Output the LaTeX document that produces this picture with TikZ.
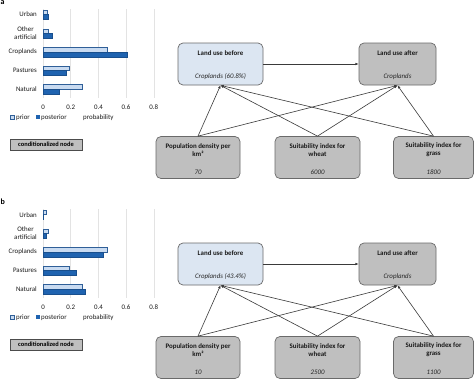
\documentclass[tikz,border=0pt]{standalone}
\usepackage{fontspec}
\setmainfont{Carlito}
\usetikzlibrary{arrows.meta}
\definecolor{boxgray}{HTML}{BFBFBF}
\definecolor{boxedge}{HTML}{6A6A6A}
\definecolor{lblue}{HTML}{DCE6F2}
\definecolor{priorfill}{HTML}{C9DBF1}
\definecolor{prioredge}{HTML}{2F5F98}
\definecolor{postfill}{HTML}{1F63B0}
\definecolor{gridc}{HTML}{E3E3E3}
\definecolor{arrc}{HTML}{3A3A3A}
\tikzset{
  bnbox/.style={draw=boxedge, line width=0.7pt, rounded corners=5pt, fill=boxgray, inner sep=0pt},
  ttl/.style={font=\fontsize{6.9}{7.8}\selectfont\bfseries, align=center, inner sep=0pt, text=black!90},
  val/.style={font=\fontsize{6.9}{7.8}\selectfont\itshape, inner sep=0pt, text=black!85},
  cat/.style={font=\fontsize{6.9}{7.8}\selectfont, align=center, inner sep=0pt, anchor=east, text=black!90},
  tick/.style={font=\fontsize{6.9}{7.8}\selectfont, inner sep=0pt, text=black!90},
  arr/.style={draw=arrc, line width=0.6pt, -{Latex[length=3.2pt,width=2.6pt]}},
  priorbar/.style={fill=priorfill, draw=prioredge, line width=0.4pt},
  postbar/.style={fill=postfill, draw=postfill!80!black, line width=0.4pt},
  panellbl/.style={font=\fontsize{8}{9}\selectfont\bfseries, inner sep=0pt, anchor=north west},
  condbox/.style={draw=black!70, line width=0.7pt, fill=boxgray, font=\fontsize{6.4}{7}\selectfont\bfseries, minimum width=72pt, minimum height=11pt, inner sep=0pt}
}
\newcommand{\pnbars}[3]{% y prior post
  \path[priorbar] (43,#1-4.5) rectangle ({43+#2*138.5},#1);
  \path[postbar] (43,#1) rectangle ({43+#3*138.5},#1+5);
}
\begin{document}
\begin{tikzpicture}[x=1pt,y=-1pt]
\useasboundingbox (0,0) rectangle (474,380);
\fill[white] (0,0) rectangle (474,380);
% ================= Panel a =================
\node[panellbl] (la) at (0.5,0.5) {a};
\foreach \v in {0,0.2,0.4,0.6,0.8} \draw[gridc, line width=0.6pt] ({43+\v*138.5},9) -- ({43+\v*138.5},98);
\pnbars{14.5}{0.03}{0.04}
\pnbars{33.2}{0.04}{0.065}
\pnbars{51.8}{0.46}{0.61}
\pnbars{70.4}{0.19}{0.165}
\pnbars{89}{0.28}{0.12}
\node[cat] (ca1) at (37,14.5) {Urban};
\node[cat] (ca2) at (37,33.5) {Other\\artificial};
\node[cat] (ca3) at (37,51.8) {Croplands};
\node[cat] (ca4) at (37,70.4) {Pastures};
\node[cat] (ca5) at (37,89) {Natural};
\foreach \v/\t in {0/0,0.2/0.2,0.4/0.4,0.6/0.6,0.8/0.8} \node[tick] at ({43+\v*138.5},107.5) {\t};
\draw[priorbar] (10,115) rectangle (14,119);
\node[tick, anchor=west] (lpa) at (16,117.3) {prior};
\fill[postfill] (36,115) rectangle (40,119);
\node[tick, anchor=west] (lqa) at (41,117.3) {posterior};
\node[tick, anchor=west] (lra) at (83,117.3) {probability};
\node[condbox] (conda) at (46,144.5) {conditionalized node};
% nodes
\node[bnbox, fill=lblue, minimum width=85pt, minimum height=42pt] (lubA) at (220.5,64) {};
\node[ttl] at (220.5,53) {Land use before};
\node[val] at (220.5,77) {Croplands (60.8\%)};
\node[bnbox, minimum width=77pt, minimum height=42pt] (luaA) at (397.5,64) {};
\node[ttl] at (397.5,53) {Land use after};
\node[val] at (397.5,77) {Croplands};
\node[bnbox, minimum width=84pt, minimum height=42pt] (pdA) at (198,157.5) {};
\node[ttl] at (198,150) {Population density per\\km²};
\node[val] at (198,172) {70};
\node[bnbox, minimum width=85pt, minimum height=42pt] (whA) at (317.5,157.5) {};
\node[ttl] at (317.5,150) {Suitability index for\\wheat};
\node[val] at (317.5,172) {6000};
\node[bnbox, minimum width=80pt, minimum height=42pt] (grA) at (433.5,157.5) {};
\node[ttl] at (433.5,150) {Suitability index for\\grass};
\node[val] at (433.5,172) {1800};
\draw[arr] (lubA.east) -- (luaA.west);
\foreach \s in {pdA,whA,grA} {
  \draw[arr] (\s.north) -- (lubA.south);
  \draw[arr] (\s.north) -- (luaA.south);
}
% ================= Panel b =================
\node[panellbl] (lb) at (0.5,199) {b};
\foreach \v in {0,0.2,0.4,0.6,0.8} \draw[gridc, line width=0.6pt] ({43+\v*138.5},209) -- ({43+\v*138.5},298);
\pnbars{214.5}{0.025}{0.005}
\pnbars{233.2}{0.04}{0.02}
\pnbars{251.8}{0.46}{0.434}
\pnbars{270.4}{0.19}{0.24}
\pnbars{289}{0.28}{0.305}
\node[cat] (cb1) at (37,215.5) {Urban};
\node[cat] (cb2) at (37,233.5) {Other\\artificial};
\node[cat] (cb3) at (37,251.8) {Croplands};
\node[cat] (cb4) at (37,270.4) {Pastures};
\node[cat] (cb5) at (37,289) {Natural};
\foreach \v/\t in {0/0,0.2/0.2,0.4/0.4,0.6/0.6,0.8/0.8} \node[tick] at ({43+\v*138.5},307.5) {\t};
\draw[priorbar] (10,315) rectangle (14,319);
\node[tick, anchor=west] (lpb) at (16,317.3) {prior};
\fill[postfill] (36,315) rectangle (40,319);
\node[tick, anchor=west] (lqb) at (41,317.3) {posterior};
\node[tick, anchor=west] (lrb) at (83,317.3) {probability};
\node[condbox] (condb) at (46,344.5) {conditionalized node};
\node[bnbox, fill=lblue, minimum width=85pt, minimum height=42pt] (lubB) at (220.5,264) {};
\node[ttl] at (220.5,253) {Land use before};
\node[val] at (220.5,277) {Croplands (43.4\%)};
\node[bnbox, minimum width=77pt, minimum height=42pt] (luaB) at (397.5,264) {};
\node[ttl] at (397.5,253) {Land use after};
\node[val] at (397.5,277) {Croplands};
\node[bnbox, minimum width=84pt, minimum height=42pt] (pdB) at (198,357.5) {};
\node[ttl] at (198,350) {Population density per\\km²};
\node[val] at (198,372) {10};
\node[bnbox, minimum width=85pt, minimum height=42pt] (whB) at (317.5,357.5) {};
\node[ttl] at (317.5,350) {Suitability index for\\wheat};
\node[val] at (317.5,372) {2500};
\node[bnbox, minimum width=80pt, minimum height=42pt] (grB) at (433.5,357.5) {};
\node[ttl] at (433.5,350) {Suitability index for\\grass};
\node[val] at (433.5,372) {1100};
\draw[arr] (lubB.east) -- (luaB.west);
\foreach \s in {pdB,whB,grB} {
  \draw[arr] (\s.north) -- (lubB.south);
  \draw[arr] (\s.north) -- (luaB.south);
}
\end{tikzpicture}
\end{document}
